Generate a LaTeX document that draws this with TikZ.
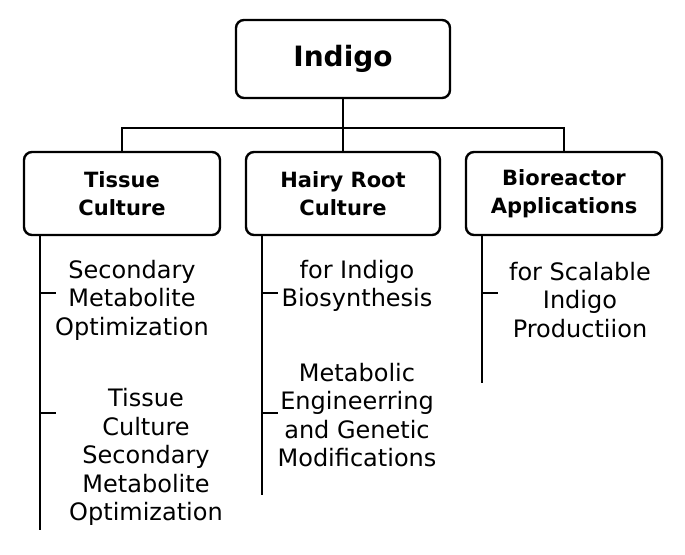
\documentclass[tikz,border=0pt]{standalone}
\usepackage{fontspec}
\setmainfont{DejaVu Sans}
\begin{document}
\begin{tikzpicture}[x=1pt,y=-1pt,line width=2.4pt,
  box/.style={draw,rounded corners=8pt,align=center,inner sep=0pt},
  title/.style={font=\fontsize{21}{28}\selectfont\bfseries,align=center},
  body/.style={font=\fontsize{24}{28.5}\selectfont,align=center}]
\useasboundingbox (0,0) rectangle (685,554);
\node[box,minimum width=214pt,minimum height=78pt,font=\fontsize{28}{32}\selectfont\bfseries] (root) at (343,59) {Indigo};
\node[box,title,minimum width=196pt,minimum height=83pt] (a) at (122,193.5) {Tissue\\Culture};
\node[box,title,minimum width=194pt,minimum height=83pt] (b) at (343,193.5) {Hairy Root\\Culture};
\node[box,title,minimum width=196pt,minimum height=83pt] (c) at (564,193.5) {Bioreactor\\Applications};
\coordinate (j) at (343,128);
\draw (root.south) -- (j);
\draw (a.north) |- (j) -| (c.north);
\draw (j) -- (b.north);
\coordinate (a0) at (40,235); \coordinate (a1) at (40,530);
\coordinate (b0) at (262,235); \coordinate (b1) at (262,495);
\coordinate (c0) at (482,235); \coordinate (c1) at (482,383);
\draw (a0) -- (a1); \draw (b0) -- (b1); \draw (c0) -- (c1);
\coordinate (ta1) at (40,293); \coordinate (ta2) at (40,413);
\coordinate (tb1) at (262,293); \coordinate (tb2) at (262,413);
\coordinate (tc1) at (482,293);
\foreach \t in {ta1,ta2,tb1,tb2,tc1} \draw (\t) -- ++(16,0);
\node[body] (la) at (132,300) {Secondary\\Metabolite\\Optimization};
\node[body] (lb) at (146,457) {Tissue\\Culture\\Secondary\\Metabolite\\Optimization};
\node[body] (ma) at (357,286) {for Indigo\\Biosynthesis};
\node[body] (mb) at (357,415) {Metabolic\\Engineerring\\and Genetic\\Modifications};
\node[body] (ra) at (580,300) {for Scalable\\Indigo\\Productiion};
\end{tikzpicture}
\end{document}
